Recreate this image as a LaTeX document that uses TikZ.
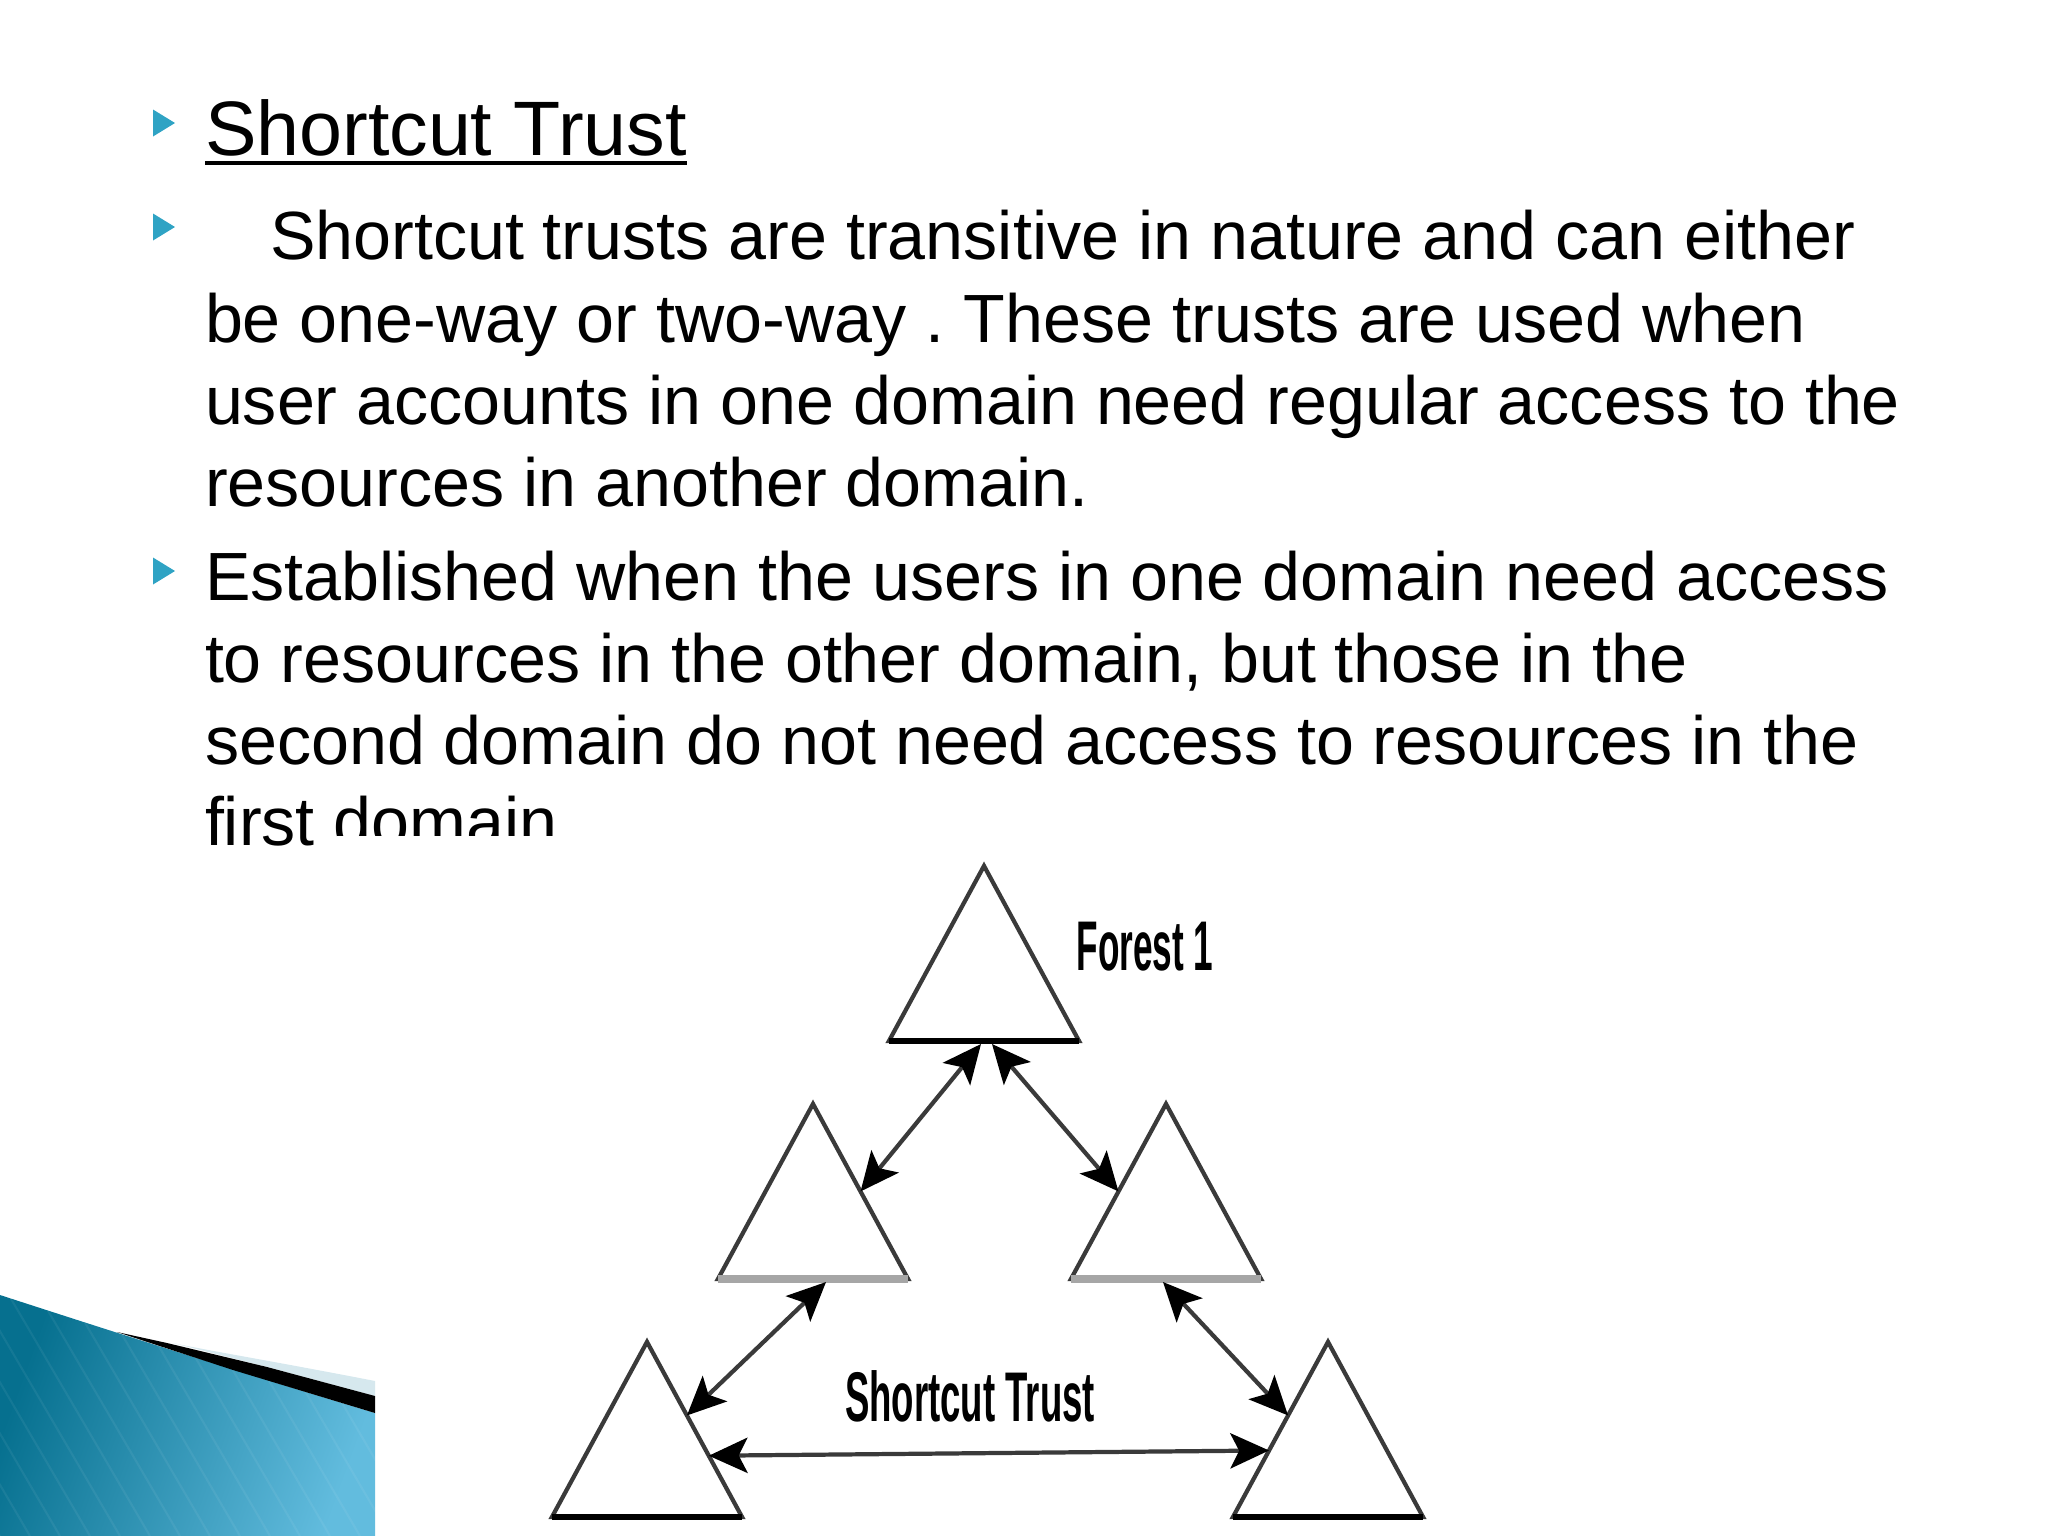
\documentclass[tikz,border=0pt]{standalone}
\usepackage{fontspec}
\setmainfont{Liberation Sans}
\usetikzlibrary{arrows.meta,calc,shapes.geometric}
\definecolor{bulletblue}{HTML}{2FA3C4}
\definecolor{decodark}{HTML}{06708F}
\definecolor{decolight}{HTML}{62BCDE}
\definecolor{decoband}{HTML}{D6E8EE}
\definecolor{trisideline}{HTML}{3A3A3A}
\newcommand\titlestyle{\fontsize{21.95pt}{26pt}\selectfont}
\newcommand\bodystyle{\fontsize{19.4pt}{23pt}\selectfont}
\newcommand\figlabelstyle{\fontsize{20pt}{24pt}\selectfont\bfseries}
\tikzset{
  textline/.style={anchor=base west, inner sep=0pt, outer sep=0pt},
  bullet/.style={fill=bulletblue},
  foresttri/.style={draw=trisideline, line width=1.2pt, isosceles triangle, isosceles triangle stretches,
    shape border rotate=90, minimum width=1.9cm, minimum height=1.75cm, inner sep=0pt, outer sep=0pt, anchor=lower side},
  blackbase/.style={line width=1.6pt, black},
  graybase/.style={line width=2.2pt, black!35},
  trustarrow/.style={{Stealth[length=11pt,width=10pt,inset=2.5pt,black]}-{Stealth[length=11pt,width=10pt,inset=2.5pt,black]}, line width=1.2pt, trisideline},
}
\newcommand\slidebullet[1]{
  \fill[bullet] (153, #1 - 13.5) -- (175, #1) -- (153, #1 + 13.5) -- cycle ;
}
\begin{document}
\begin{tikzpicture}[x=.01cm, y=-.01cm]
  \useasboundingbox (0, 0) rectangle (2048, 1536) ;
  \slidebullet{123}
  \slidebullet{227}
  \slidebullet{571}
  \draw (205, 155) node[textline] (title) {\titlestyle Shortcut Trust} ;
  \draw[line width=1.25pt] ($(title.base west)+(0, 8)$) -- ($(title.base east)+(0, 8)$) ;
  \draw (270, 259) node[textline] (lineA) {\bodystyle Shortcut trusts are transitive in nature and can either} ;
  \draw (205, 342) node[textline] (lineB) {\bodystyle be one-way or two-way .\kern-1.6pt{} These trusts are used when} ;
  \draw (205, 424) node[textline] (lineC) {\bodystyle user accounts in one domain need regular access to the} ;
  \draw (205, 506) node[textline] (lineD) {\bodystyle resources in another domain.} ;
  \draw (205, 600) node[textline] (lineE) {\bodystyle Established when the users in one domain need access} ;
  \draw (205, 682) node[textline] (lineF) {\bodystyle to resources in the other domain, but those in the} ;
  \draw (205, 764) node[textline] (lineG) {\bodystyle second domain do not need access to resources in the} ;
  \draw (205, 845) node[textline] (lineH) {\bodystyle first domain} ;
  \fill[white] (337, 836) rectangle (1500, 1536) ;
  \begin{scope}
    \clip (0, 1295) .. controls (117, 1333) and (233, 1370) .. (375, 1413) -- (375, 1536) -- (0, 1536) -- cycle ;
    \shade[left color=decodark, right color=decolight, shading angle=70] (0, 1295) rectangle (375, 1536) ;
    \foreach \s in {0, 30, ..., 600} {
      \draw[white, opacity=.06, line width=.6pt] (\s - 150, 1280) -- (\s + 0, 1536) ;
    }
  \end{scope}
  \fill[decoband] (173, 1343) .. controls (210, 1351) and (267, 1360) .. (375, 1381) -- (375, 1396) -- (267, 1367) -- cycle ;
  \fill[black] (117, 1332) -- (167, 1343) -- (267, 1367) -- (375, 1396) -- (375, 1413) -- (233, 1370) -- cycle ;
  \node[foresttri] (treeTop) at (984, 1041) {} ;
  \node[foresttri] (treeLeft) at (813, 1279) {} ;
  \node[foresttri] (treeRight) at (1166, 1279) {} ;
  \node[foresttri] (treeLowLeft) at (647, 1517) {} ;
  \node[foresttri] (treeLowRight) at (1328, 1517) {} ;
  \draw[blackbase] (treeTop.left corner) -- (treeTop.right corner) ;
  \draw[graybase] (treeLeft.left corner) -- (treeLeft.right corner) ;
  \draw[graybase] (treeRight.left corner) -- (treeRight.right corner) ;
  \draw[blackbase] (treeLowLeft.left corner) -- (treeLowLeft.right corner) ;
  \draw[blackbase] (treeLowRight.left corner) -- (treeLowRight.right corner) ;
  \draw[trustarrow] ($(treeTop.lower side)+(-3, 3)$) -- (treeLeft.right side) ;
  \draw[trustarrow] ($(treeTop.lower side)+(8, 3)$) -- (treeRight.left side) ;
  \draw[trustarrow] ($(treeLeft.lower side)+(13, 3)$) -- ($(treeLowLeft.apex)!.42!(treeLowLeft.right corner)$) ;
  \draw[trustarrow] ($(treeRight.lower side)+(-3, 3)$) -- ($(treeLowRight.apex)!.42!(treeLowRight.left corner)$) ;
  \draw[trustarrow] ($(treeLowLeft.apex)!.65!(treeLowLeft.right corner)$) -- ($(treeLowRight.apex)!.62!(treeLowRight.left corner)$) ;
  \draw (1145, 947) node[xscale=.5, inner sep=0pt] (forestLabel) {\figlabelstyle Forest 1} ;
  \draw (970, 1396) node[xscale=.52, inner sep=0pt] (shortcutLabel) {\figlabelstyle Shortcut Trust} ;
\end{tikzpicture}
\end{document}
